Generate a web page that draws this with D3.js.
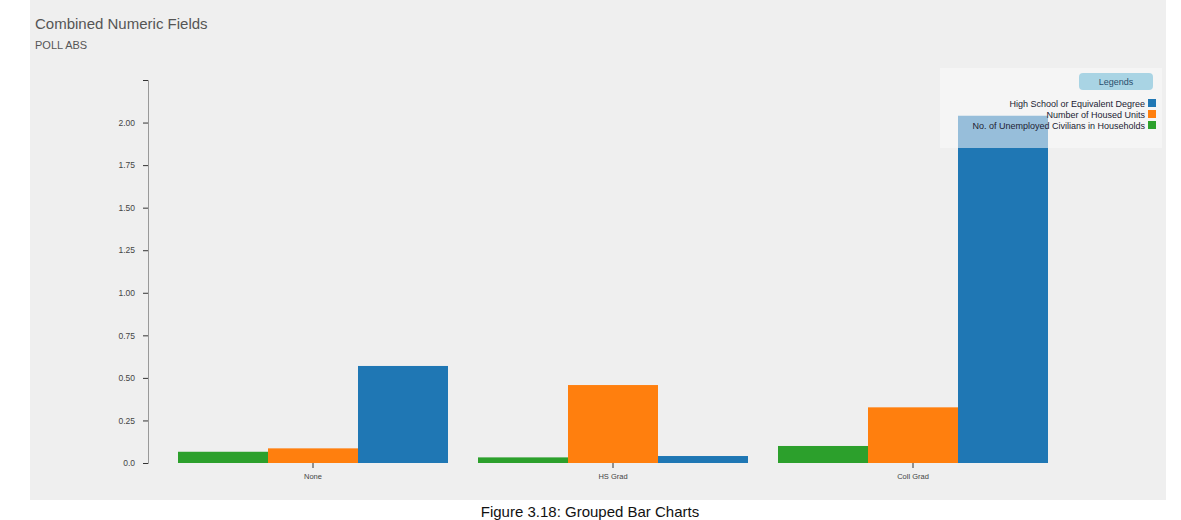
<!DOCTYPE html>
<html>
<head>
<meta charset="utf-8">
<script src="https://cdn.jsdelivr.net/npm/d3@7/dist/d3.min.js"></script>
<style>
  body { margin: 0; background: #fff; font-family: "Liberation Sans", Arial, sans-serif; }
</style>
</head>
<body>
<svg id="chart" width="1181" height="520"></svg>
<script>
// 数据
// ====
const categories = ['None', 'HS Grad', 'Coll Grad']
const seriesNames = [
  'No. of Unemployed Civilians in Households',
  'Number of Housed Units',
  'High School or Equivalent Degree'
]
const seriesColors = ['#2ca02c', '#ff7f0e', '#1f77b4']
const unemployed = [0.066, 0.033, 0.10]
const housedUnits = [0.086, 0.458, 0.327]
const highSchool = [0.57, 0.041, 2.04]
const yTicks = [0, 0.25, 0.5, 0.75, 1, 1.25, 1.5, 1.75, 2, 2.25]
const yTickLabels = ['0.0', '0.25', '0.50', '0.75', '1.00', '1.25', '1.50', '1.75', '2.00', '']

const seriesValues = [unemployed, housedUnits, highSchool]
const rows = categories.map((c, i) => ({
  category: c,
  values: seriesNames.map((s, j) => ({ key: s, value: seriesValues[j][i], color: seriesColors[j] }))
}))

const svg = d3.select('#chart')

// 背景
svg.append('rect')
  .attr('x', 30).attr('y', 0)
  .attr('width', 1136).attr('height', 500)
  .attr('fill', '#efefef')

svg.append('text')
  .attr('x', 35).attr('y', 29)
  .attr('font-size', 15).attr('fill', '#555')
  .text('Combined Numeric Fields')

svg.append('text')
  .attr('x', 35).attr('y', 49)
  .attr('font-size', 11).attr('fill', '#555')
  .text('POLL ABS')

// 比例尺
// ======
const x0 = d3.scaleBand()
  .domain(categories)
  .range([148, 1078])
  .paddingInner(0.1)
  .paddingOuter(0.1)

const x1 = d3.scaleBand()
  .domain(seriesNames)
  .range([0, x0.bandwidth()])

const y = d3.scaleLinear()
  .domain([0, 2.25])
  .range([463, 80])

/**
 * 绘制 y 轴
 */
function drawYAxis(selection) {
  selection.attr('transform', 'translate(148,0)')
    .call(d3.axisLeft(y)
      .tickValues(yTicks)
      .tickFormat((d, i) => yTickLabels[i])
      .tickSize(5)
      .tickPadding(8))
  selection.select('.domain').attr('stroke', '#999')
  selection.selectAll('.tick line').attr('stroke', '#333')
  selection.selectAll('.tick text')
    .attr('font-size', 8.5).attr('fill', '#444')
    .attr('font-family', '"Liberation Sans", Arial, sans-serif')
}

/**
 * 绘制 x 轴
 */
function drawXAxis(selection) {
  selection.attr('transform', 'translate(0,463)')
    .call(d3.axisBottom(x0).tickSize(5).tickPadding(6))
  selection.select('.domain').attr('stroke', 'none')
  selection.selectAll('.tick line').attr('stroke', '#333')
  selection.selectAll('.tick text')
    .attr('font-size', 7.5).attr('fill', '#444')
    .attr('font-family', '"Liberation Sans", Arial, sans-serif')
}

svg.append('g').call(drawYAxis)
svg.append('g').call(drawXAxis)

// 绘制柱子
// =======
svg.append('g')
  .selectAll('g')
  .data(rows)
  .join('g')
  .attr('transform', d => `translate(${x0(d.category)},0)`)
  .selectAll('rect')
  .data(d => d.values)
  .join('rect')
  .attr('x', d => x1(d.key))
  .attr('y', d => y(d.value))
  .attr('width', x1.bandwidth())
  .attr('height', d => y(0) - y(d.value))
  .attr('fill', d => d.color)

// 图例
// ====
const legend = svg.append('g')

legend.append('rect')
  .attr('x', 940).attr('y', 68)
  .attr('width', 222).attr('height', 80)
  .attr('fill', '#fafafa').attr('opacity', 0.55)

legend.append('rect')
  .attr('x', 1079).attr('y', 73)
  .attr('width', 74).attr('height', 17)
  .attr('rx', 4)
  .attr('fill', '#a9d4e4')

legend.append('text')
  .attr('x', 1116).attr('y', 85)
  .attr('text-anchor', 'middle')
  .attr('font-size', 9).attr('fill', '#2a4f6e')
  .text('Legends')

const items = legend.selectAll('g.item')
  .data(seriesNames.map((s, i) => ({ name: s, color: seriesColors[i] })).reverse())
  .join('g')
  .attr('class', 'item')
  .attr('transform', (d, i) => `translate(0,${99 + i * 11})`)

items.append('rect')
  .attr('x', 1148).attr('y', 0)
  .attr('width', 8).attr('height', 8)
  .attr('fill', d => d.color)

items.append('text')
  .attr('x', 1145).attr('y', 7.5)
  .attr('text-anchor', 'end')
  .attr('font-size', 9).attr('fill', '#223')
  .text(d => d.name)

// 图注
svg.append('text')
  .attr('x', 590).attr('y', 517)
  .attr('text-anchor', 'middle')
  .attr('font-size', 15).attr('fill', '#111')
  .text('Figure 3.18: Grouped Bar Charts')
</script>
</body>
</html>
